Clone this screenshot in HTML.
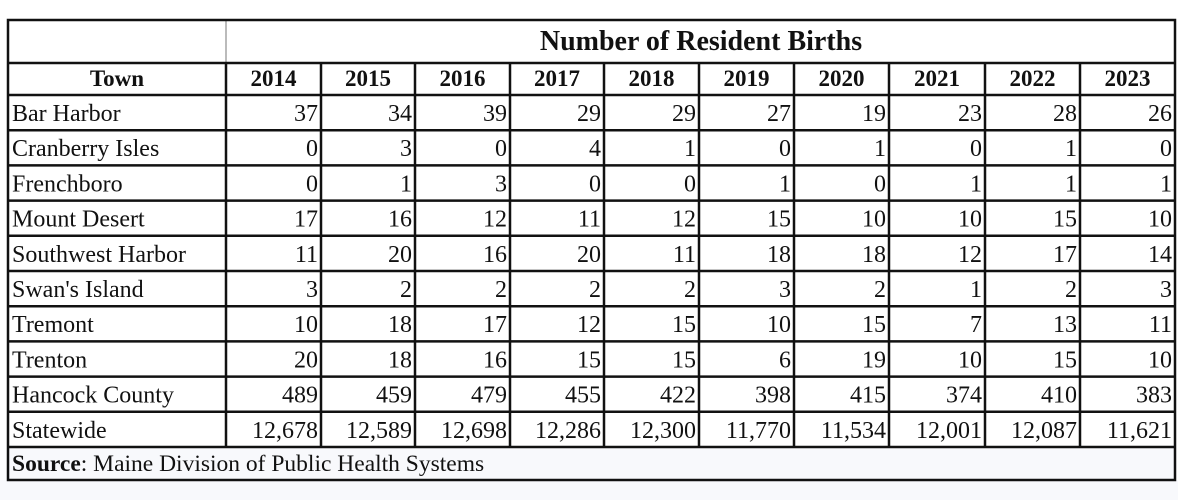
<!DOCTYPE html>
<html><head><meta charset="utf-8"><style>
html,body{margin:0;padding:0;background:#fff;}
svg{display:block;}
text{font-family:"Liberation Serif",serif;fill:#111;font-size:24px;}
.h{font-weight:bold;text-anchor:middle;font-size:23px;}
.n text{text-anchor:end;}
</style></head><body>
<svg width="1186" height="500" viewBox="0 0 1186 500" xmlns="http://www.w3.org/2000/svg">
<rect x="0" y="480" width="1178" height="20" fill="#f8f9fc"/>
<rect x="8" y="447" width="1167" height="33" fill="#f8f9fc"/>
<line x1="226" y1="21" x2="226" y2="63" stroke="#bbb" stroke-width="2"/>
<text x="701" y="50" class="h" style="font-size:28px">Number of Resident Births</text>
<g stroke="#111" stroke-width="2.5">
<line x1="8" y1="63" x2="1175" y2="63"/>
<line x1="8" y1="95" x2="1175" y2="95"/>
<line x1="8" y1="130.2" x2="1175" y2="130.2"/>
<line x1="8" y1="165.4" x2="1175" y2="165.4"/>
<line x1="8" y1="200.6" x2="1175" y2="200.6"/>
<line x1="8" y1="235.8" x2="1175" y2="235.8"/>
<line x1="8" y1="271" x2="1175" y2="271"/>
<line x1="8" y1="306.2" x2="1175" y2="306.2"/>
<line x1="8" y1="341.4" x2="1175" y2="341.4"/>
<line x1="8" y1="376.6" x2="1175" y2="376.6"/>
<line x1="8" y1="411.8" x2="1175" y2="411.8"/>
<line x1="8" y1="447" x2="1175" y2="447"/>
<line x1="226" y1="63" x2="226" y2="447"/>
<line x1="321" y1="63" x2="321" y2="447"/>
<line x1="415" y1="63" x2="415" y2="447"/>
<line x1="510" y1="63" x2="510" y2="447"/>
<line x1="604" y1="63" x2="604" y2="447"/>
<line x1="699" y1="63" x2="699" y2="447"/>
<line x1="794" y1="63" x2="794" y2="447"/>
<line x1="889" y1="63" x2="889" y2="447"/>
<line x1="985" y1="63" x2="985" y2="447"/>
<line x1="1080" y1="63" x2="1080" y2="447"/>
<rect x="8" y="20" width="1167" height="460" fill="none"/>
</g>
<g>
<text x="117" y="86" class="h">Town</text>
<text x="273.5" y="86" class="h">2014</text>
<text x="368" y="86" class="h">2015</text>
<text x="462.5" y="86" class="h">2016</text>
<text x="557" y="86" class="h">2017</text>
<text x="651.5" y="86" class="h">2018</text>
<text x="746.5" y="86" class="h">2019</text>
<text x="841.5" y="86" class="h">2020</text>
<text x="937" y="86" class="h">2021</text>
<text x="1032.5" y="86" class="h">2022</text>
<text x="1127.5" y="86" class="h">2023</text>
</g>
<g>
<text x="12" y="121">Bar Harbor</text>
<text x="12" y="156.2">Cranberry Isles</text>
<text x="12" y="191.4">Frenchboro</text>
<text x="12" y="226.6">Mount Desert</text>
<text x="12" y="261.8">Southwest Harbor</text>
<text x="12" y="297">Swan's Island</text>
<text x="12" y="332.2">Tremont</text>
<text x="12" y="367.4">Trenton</text>
<text x="12" y="402.6">Hancock County</text>
<text x="12" y="437.8">Statewide</text>
</g>
<g class="n">
<g transform="translate(0,121)"><text x="318">37</text><text x="412">34</text><text x="507">39</text><text x="601">29</text><text x="696">29</text><text x="791">27</text><text x="886">19</text><text x="982">23</text><text x="1077">28</text><text x="1172">26</text></g>
<g transform="translate(0,156.2)"><text x="318">0</text><text x="412">3</text><text x="507">0</text><text x="601">4</text><text x="696">1</text><text x="791">0</text><text x="886">1</text><text x="982">0</text><text x="1077">1</text><text x="1172">0</text></g>
<g transform="translate(0,191.4)"><text x="318">0</text><text x="412">1</text><text x="507">3</text><text x="601">0</text><text x="696">0</text><text x="791">1</text><text x="886">0</text><text x="982">1</text><text x="1077">1</text><text x="1172">1</text></g>
<g transform="translate(0,226.6)"><text x="318">17</text><text x="412">16</text><text x="507">12</text><text x="601">11</text><text x="696">12</text><text x="791">15</text><text x="886">10</text><text x="982">10</text><text x="1077">15</text><text x="1172">10</text></g>
<g transform="translate(0,261.8)"><text x="318">11</text><text x="412">20</text><text x="507">16</text><text x="601">20</text><text x="696">11</text><text x="791">18</text><text x="886">18</text><text x="982">12</text><text x="1077">17</text><text x="1172">14</text></g>
<g transform="translate(0,297)"><text x="318">3</text><text x="412">2</text><text x="507">2</text><text x="601">2</text><text x="696">2</text><text x="791">3</text><text x="886">2</text><text x="982">1</text><text x="1077">2</text><text x="1172">3</text></g>
<g transform="translate(0,332.2)"><text x="318">10</text><text x="412">18</text><text x="507">17</text><text x="601">12</text><text x="696">15</text><text x="791">10</text><text x="886">15</text><text x="982">7</text><text x="1077">13</text><text x="1172">11</text></g>
<g transform="translate(0,367.4)"><text x="318">20</text><text x="412">18</text><text x="507">16</text><text x="601">15</text><text x="696">15</text><text x="791">6</text><text x="886">19</text><text x="982">10</text><text x="1077">15</text><text x="1172">10</text></g>
<g transform="translate(0,402.6)"><text x="318">489</text><text x="412">459</text><text x="507">479</text><text x="601">455</text><text x="696">422</text><text x="791">398</text><text x="886">415</text><text x="982">374</text><text x="1077">410</text><text x="1172">383</text></g>
<g transform="translate(0,437.8)"><text x="318">12,678</text><text x="412">12,589</text><text x="507">12,698</text><text x="601">12,286</text><text x="696">12,300</text><text x="791">11,770</text><text x="886">11,534</text><text x="982">12,001</text><text x="1077">12,087</text><text x="1172">11,621</text></g>
</g>
<text x="12" y="471" style="font-size:23.5px"><tspan font-weight="bold">Source</tspan>: Maine Division of Public Health Systems</text>
</svg>
</body></html>
